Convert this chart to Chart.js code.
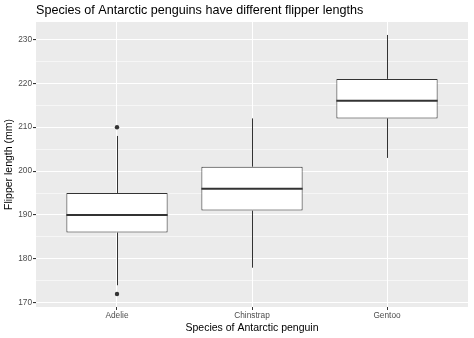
<!DOCTYPE html>
<html>
<head>
<meta charset="utf-8">
<script src="https://cdn.jsdelivr.net/npm/chart.js@4/dist/chart.umd.min.js"></script>
<style>
  html, body { margin: 0; padding: 0; background: #fff; }
  #wrap { width: 474px; height: 338px; }
</style>
</head>
<body>
<div id="wrap"><canvas id="grafik"></canvas></div>
<script>
// flipper length summaries per species (mm)
const species = ['Adelie', 'Chinstrap', 'Gentoo'];
const q1 = [186, 191, 212];
const median = [190, 196, 216];
const q3 = [195, 201, 221];
const whiskerLow = [174, 178, 203];
const whiskerHigh = [208, 212, 231];
const outliers = [[0, 210], [0, 172]];
const yTicks = [170, 175, 180, 185, 190, 195, 200, 205, 210, 215, 220, 225, 230];

const ink = '#333333';
const fontName = '"Liberation Sans", Arial, sans-serif';

// grey panel behind everything
const panelBg = {
  id: 'panelBg',
  beforeDraw(chart) {
    const { ctx, chartArea: a } = chart;
    ctx.save();
    ctx.fillStyle = '#EBEBEB';
    ctx.fillRect(a.left, a.top, a.right - a.left, a.bottom - a.top);
    ctx.restore();
  }
};

// whiskers below the boxes, medians on top
const boxExtras = {
  id: 'boxExtras',
  beforeDatasetsDraw(chart) {
    const { ctx, scales: { x, y } } = chart;
    ctx.save();
    ctx.strokeStyle = ink;
    ctx.lineWidth = 1;
    species.forEach((s, i) => {
      const px = Math.round(x.getPixelForValue(i)) + 0.5;
      ctx.beginPath();
      ctx.moveTo(px, y.getPixelForValue(q3[i]));
      ctx.lineTo(px, y.getPixelForValue(whiskerHigh[i]));
      ctx.moveTo(px, y.getPixelForValue(q1[i]));
      ctx.lineTo(px, y.getPixelForValue(whiskerLow[i]));
      ctx.stroke();
    });
    ctx.restore();
  },
  afterDatasetsDraw(chart) {
    const { ctx, scales: { y } } = chart;
    const bars = chart.getDatasetMeta(0).data;
    ctx.save();
    ctx.strokeStyle = ink;
    ctx.lineWidth = 2;
    bars.forEach((bar, i) => {
      const py = y.getPixelForValue(median[i]);
      ctx.beginPath();
      ctx.moveTo(bar.x - bar.width / 2, py);
      ctx.lineTo(bar.x + bar.width / 2, py);
      ctx.stroke();
    });
    ctx.restore();
  }
};

const ctx = document.getElementById('grafik').getContext('2d');

const chart = new Chart(ctx, {
  type: 'bar',
  data: {
    datasets: [{
      type: 'bar',
      label: 'box',
      data: species.map((s, i) => ({ x: i, y: [q1[i], q3[i]] })),
      backgroundColor: '#FFFFFF',
      borderColor: ink,
      borderWidth: 1,
      borderSkipped: false,
      barPercentage: 0.75,
      categoryPercentage: 1,
      grouped: false
    }, {
      type: 'scatter',
      label: 'outlier',
      data: outliers.map(o => ({ x: o[0], y: o[1] })),
      backgroundColor: ink,
      borderColor: ink,
      pointRadius: 2.2,
      borderWidth: 0
    }]
  },
  options: {
    responsive: true,
    maintainAspectRatio: false,
    animation: false,
    layout: { padding: { left: 0, right: 6, top: 0, bottom: 0 } },
    plugins: {
      legend: { display: false },
      tooltip: { enabled: false },
      title: {
        display: true,
        text: 'Species of Antarctic penguins have different flipper lengths',
        align: 'start',
        fullSize: false,
        color: '#000',
        font: { family: fontName, size: 12.6, weight: 'normal', lineHeight: 1.2 },
        padding: { top: 3, bottom: 3.9 }
      }
    },
    scales: {
      x: {
        type: 'linear',
        min: -0.6,
        max: 2.6,
        offset: false,
        afterBuildTicks(scale) { scale.ticks = species.map((s, i) => ({ value: i })); },
        afterFit(scale) { scale.height = 31; },
        border: { display: false },
        grid: {
          offset: false,
          color: '#FFFFFF',
          lineWidth: 1,
          drawTicks: true,
          tickLength: 3,
          tickColor: ink
        },
        ticks: {
          color: '#4D4D4D',
          padding: 1,
          font: { family: fontName, size: 8.3 },
          callback: v => species[v]
        },
        title: {
          display: true,
          text: 'Species of Antarctic penguin',
          color: '#000',
          font: { family: fontName, size: 10.5 },
          padding: { top: 0, bottom: 4 }
        }
      },
      y: {
        min: 169.05,
        max: 233.95,
        afterBuildTicks(scale) { scale.ticks = yTicks.map(v => ({ value: v })); },
        afterFit(scale) { scale.width = 36; },
        border: { display: false },
        grid: {
          color: '#FFFFFF',
          lineWidth: c => (c.tick && c.tick.value % 10 === 0 ? 1.1 : 0.55),
          drawTicks: true,
          tickLength: 3,
          tickColor: c => (c.tick && c.tick.value % 10 === 0 ? ink : 'rgba(0,0,0,0)')
        },
        ticks: {
          color: '#4D4D4D',
          padding: 1,
          font: { family: fontName, size: 8.3 },
          callback: v => (v % 10 === 0 ? v : '')
        },
        title: {
          display: true,
          text: 'Flipper length (mm)',
          color: '#000',
          font: { family: fontName, size: 10.5 },
          padding: { top: 3, bottom: 0 }
        }
      }
    }
  },
  plugins: [panelBg, boxExtras]
});
</script>
</body>
</html>
